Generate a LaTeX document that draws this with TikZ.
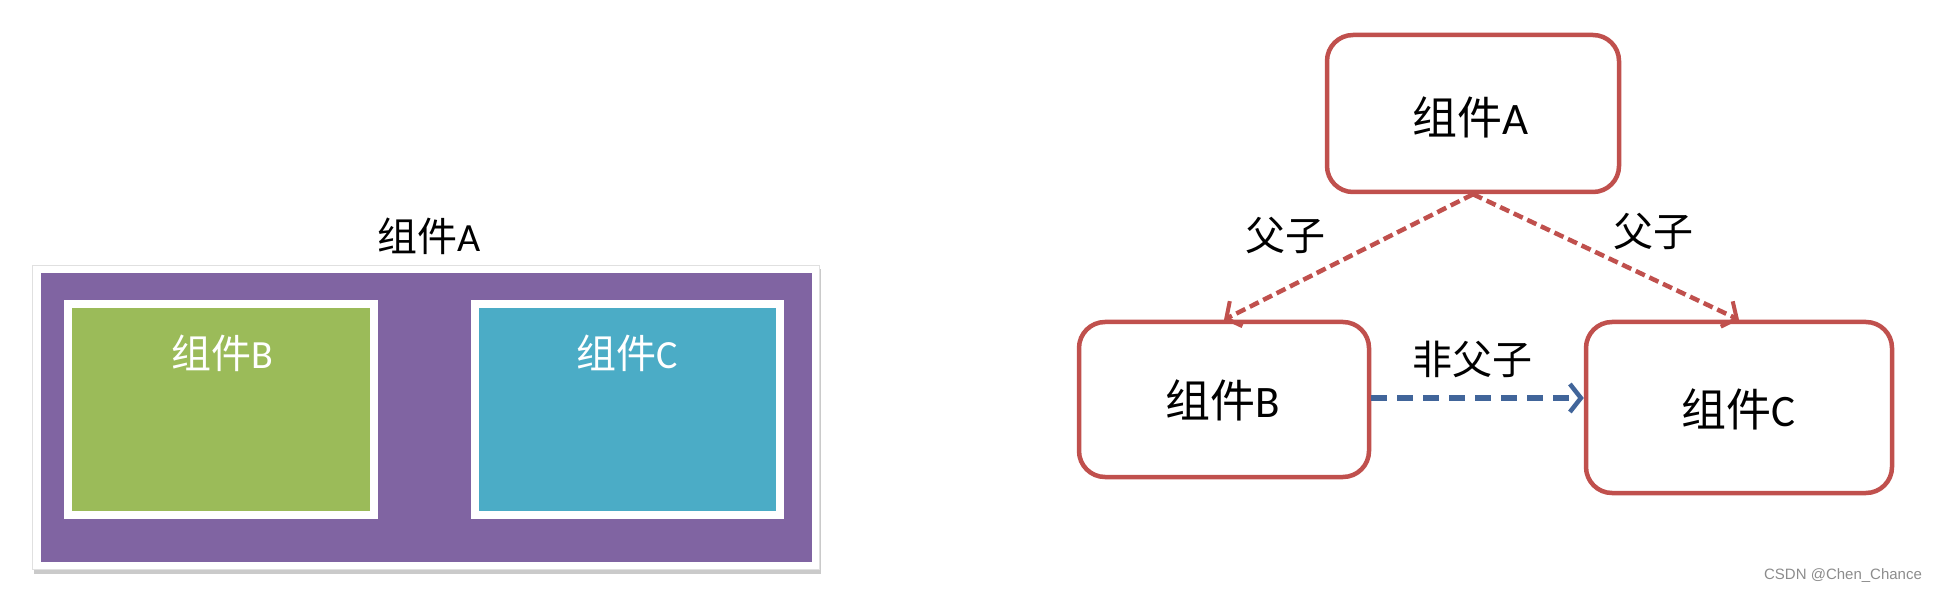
\documentclass[tikz,border=0pt]{standalone}
\usepackage{fontspec}
\setmainfont{Carlito}
\newfontfamily\cjk{Noto Sans CJK SC}
\newfontfamily\wmfont{Liberation Sans}
\usetikzlibrary{arrows.meta,shadows}
\definecolor{apurple}{HTML}{8064A2}
\definecolor{agreen}{HTML}{9BBB59}
\definecolor{ablue}{HTML}{4BACC6}
\definecolor{ared}{HTML}{C0504D}
\definecolor{adark}{HTML}{41659A}
\tikzset{
  softshadow/.style={drop shadow={shadow xshift=1.5pt, shadow yshift=-4pt, opacity=0.35, fill=black!60}},
  inbox/.style={draw=white, line width=8pt, inner sep=0pt, softshadow},
  compbox/.style={draw=ared, line width=4.5pt, rounded corners=26pt, fill=white, inner sep=0pt},
  boxtext/.style={font=\fontsize{45}{50}\selectfont},
  lbltext/.style={font=\fontsize{40}{45}\selectfont},
  relarrow/.style={draw=ared, line width=4.5pt, dash pattern=on 10pt off 5pt,
    -{Straight Barb[length=11pt,width=28pt,line width=4pt]}},
  nonarrow/.style={draw=adark, line width=5.5pt, dash pattern=on 16pt off 10pt,
    -{Straight Barb[length=11pt,width=28pt,line width=4.5pt]}}
}
\begin{document}
\begin{tikzpicture}[x=1pt,y=-1pt]
\useasboundingbox (0,0) rectangle (1937,593);
% ---- left panel ----
\node[fill=white, draw=black!12, line width=1pt, inner sep=0pt,
  minimum width=787pt, minimum height=304pt, softshadow] (frameA) at (426,417.5) {};
\node[fill=apurple, inner sep=0pt,
  minimum width=771pt, minimum height=289pt] (purpA) at (426.5,417.5) {};
\node[lbltext] (titleA) at (429,236) {{\cjk 组件}A};
\node[inbox, fill=agreen, minimum width=306pt, minimum height=211pt] (boxB) at (221,409.5) {};
\node[inbox, fill=ablue, minimum width=305pt, minimum height=211pt] (boxC) at (627.5,409.5) {};
\node[lbltext, text=white] (textB) at (222,353) {{\cjk 组件}B};
\node[lbltext, text=white] (textC) at (627,353) {{\cjk 组件}C};
% ---- right panel ----
\node[compbox, minimum width=292pt, minimum height=157pt] (A) at (1473,113.5) {};
\node[boxtext] (tA) at (1470,117) {{\cjk 组件}A};
\node[compbox, minimum width=290pt, minimum height=155pt] (B) at (1224,399.5) {};
\node[boxtext] (tB) at (1223,400) {{\cjk 组件}B};
\node[compbox, minimum width=306pt, minimum height=171pt] (C) at (1739,407.5) {};
\node[boxtext] (tC) at (1738,409) {{\cjk 组件}C};
\draw[relarrow] (A.south) -- (B.north);
\draw[relarrow] (A.south) -- (C.north);
\draw[nonarrow] (B.east |- 0,398) -- (C.west |- 0,398);
\node[lbltext] (l1) at (1285,236) {\cjk 父子};
\node[lbltext] (l2) at (1653,232) {\cjk 父子};
\node[lbltext] (l3) at (1472,359) {\cjk 非父子};
\node[text=black!45, font=\wmfont\fontsize{15}{18}\selectfont] (wm) at (1843,576) {CSDN @Chen\_Chance};
\end{tikzpicture}
\end{document}
